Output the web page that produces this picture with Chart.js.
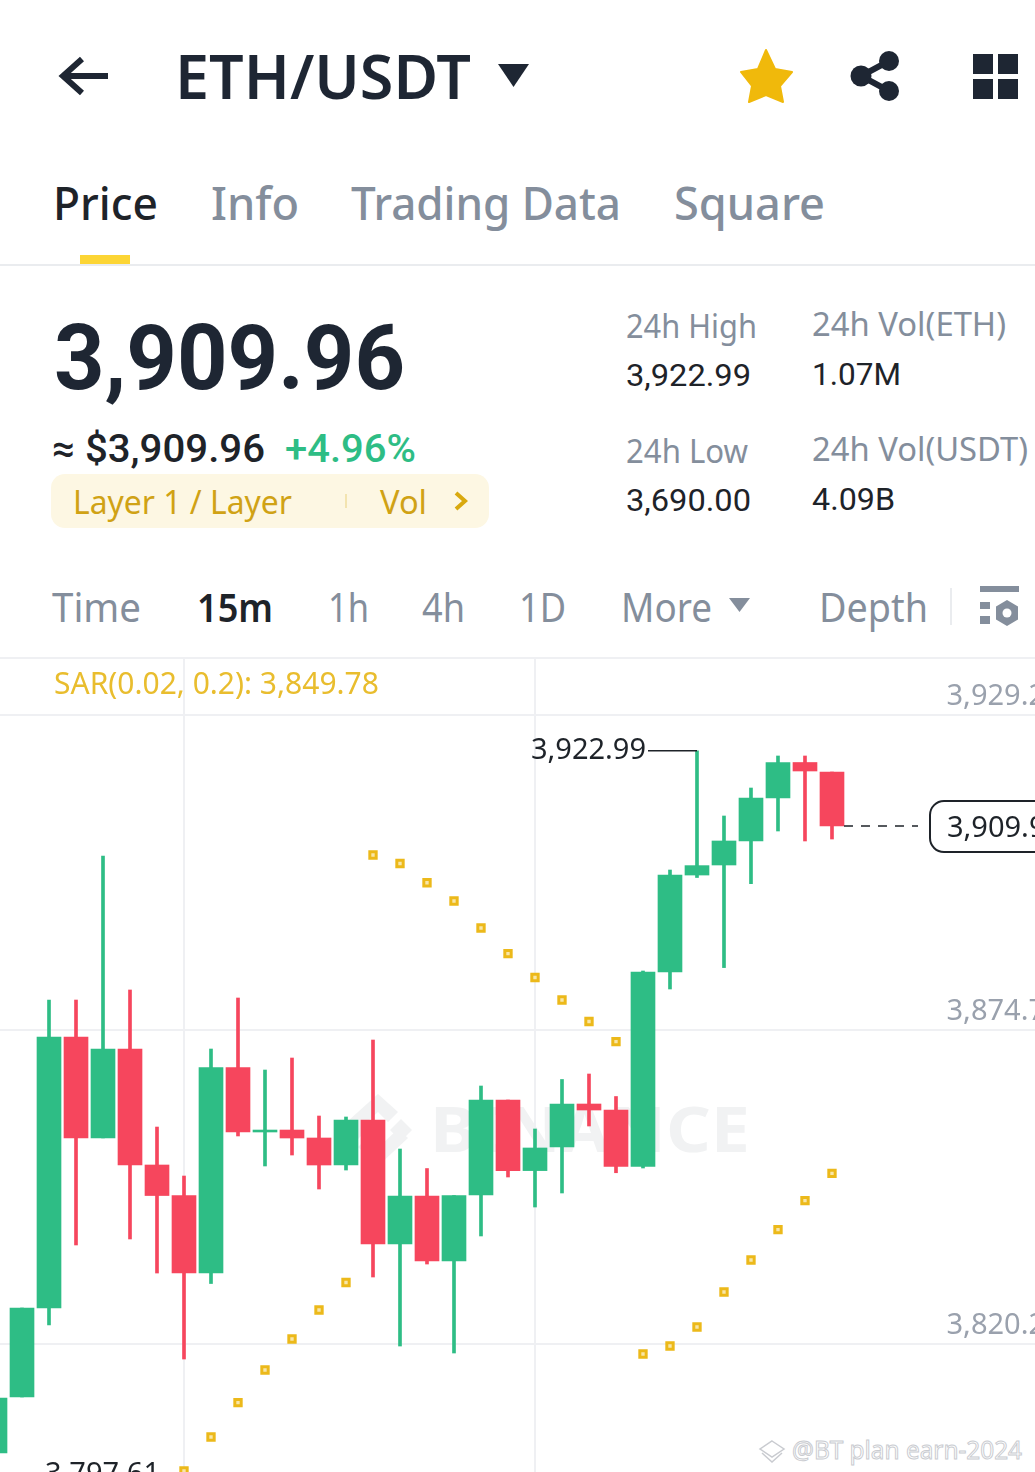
<!DOCTYPE html>
<html>
<head>
<meta charset="utf-8">
<title>ETH/USDT</title>
<script src="https://cdn.jsdelivr.net/npm/chart.js@4/dist/chart.umd.min.js"></script>
<style>
  html, body { margin: 0; padding: 0; background: #fff; width: 1035px; height: 1472px; overflow: hidden; }
  #page { position: absolute; left: 0; top: 0; }
  #myChart { position: absolute; left: 0; top: 658px; }
  text { font-family: "Noto Sans", sans-serif; }
  .num { font-family: Roboto, sans-serif; }
  .grey { fill: #848e9c; }
  .dark { fill: #1e2329; }
</style>
</head>
<body>
<svg id="page" width="1035" height="1472" viewBox="0 0 1035 1472">
  <!-- top bar -->
  <path d="M108 76H64M82 59 63 76 82 93" fill="none" stroke="#1e2633" stroke-width="6"/>
  <text x="175" y="99" font-size="61" font-weight="600" fill="#1e2633" textLength="296" lengthAdjust="spacingAndGlyphs">ETH/USDT</text>
  <path d="M498 64H529L513.5 87Z" fill="#1e2633"/>
  <path d="M766 50 775 69 792 72 780 86 783 102 766 95 749 102 752 86 741 72 758 69Z" fill="#f0b90b" stroke="#f0b90b" stroke-width="2" stroke-linejoin="round"/>
  <path d="M889 61 861 76 889 91" fill="none" stroke="#1e2633" stroke-width="6"/>
  <circle cx="889" cy="61" r="10" fill="#1e2633"/><circle cx="861" cy="76" r="10.5" fill="#1e2633"/><circle cx="889" cy="91" r="10" fill="#1e2633"/>
  <path d="M973 54h20v20h-20zM998 54h20v20h-20zM973 79h20v20h-20zM998 79h20v20h-20z" fill="#1e2633"/>

  <!-- tabs -->
  <text class="dark" x="53" y="220" font-size="46" font-weight="500" textLength="105" lengthAdjust="spacingAndGlyphs">Price</text>
  <text class="grey" x="211" y="220" font-size="46" font-weight="500" textLength="88" lengthAdjust="spacingAndGlyphs">Info</text>
  <text class="grey" x="351" y="220" font-size="46" font-weight="500" textLength="270" lengthAdjust="spacingAndGlyphs">Trading Data</text>
  <text class="grey" x="674" y="220" font-size="46" font-weight="500" textLength="151" lengthAdjust="spacingAndGlyphs">Square</text>
  <rect x="80" y="255" width="50" height="9" fill="#fcd535"/>
  <rect x="0" y="264" width="1035" height="2" fill="#eaecef"/>

  <!-- price block -->
  <text class="num" x="54" y="389" font-size="91" font-weight="700" fill="#1e2633" textLength="351" lengthAdjust="spacingAndGlyphs">3,909.96</text>
  <text class="num dark" x="52" y="462" font-size="39" font-weight="500" textLength="213" lengthAdjust="spacingAndGlyphs">≈ $3,909.96</text>
  <text class="num" x="285" y="462" font-size="39" font-weight="500" fill="#2ebd85" textLength="131" lengthAdjust="spacingAndGlyphs">+4.96%</text>
  <rect x="51" y="474" width="438" height="54" rx="14" fill="#fdf7e3"/>
  <text x="73" y="514" font-size="33" fill="#d0a215" textLength="219" lengthAdjust="spacingAndGlyphs">Layer 1 / Layer</text>
  <rect x="345" y="494" width="2" height="14" fill="#f3e4b0"/>
  <text x="380" y="514" font-size="33" fill="#d0a215" textLength="47" lengthAdjust="spacingAndGlyphs">Vol</text>
  <path d="M456 493 465 501 456 509" fill="none" stroke="#d9a90f" stroke-width="4"/>

  <text class="grey" x="626" y="338" font-size="32" textLength="131" lengthAdjust="spacingAndGlyphs">24h High</text>
  <text class="num dark" x="626" y="386" font-size="32" textLength="125" lengthAdjust="spacingAndGlyphs">3,922.99</text>
  <text class="grey" x="626" y="463" font-size="32" textLength="122" lengthAdjust="spacingAndGlyphs">24h Low</text>
  <text class="num dark" x="626" y="511" font-size="32" textLength="125" lengthAdjust="spacingAndGlyphs">3,690.00</text>
  <text class="grey" x="812" y="336" font-size="32" textLength="194" lengthAdjust="spacingAndGlyphs">24h Vol(ETH)</text>
  <text class="num dark" x="812" y="385" font-size="32" textLength="89" lengthAdjust="spacingAndGlyphs">1.07M</text>
  <text class="grey" x="812" y="461" font-size="32" textLength="216" lengthAdjust="spacingAndGlyphs">24h Vol(USDT)</text>
  <text class="num dark" x="812" y="510" font-size="32" textLength="83" lengthAdjust="spacingAndGlyphs">4.09B</text>

  <!-- interval row -->
  <text class="grey" x="52" y="622" font-size="40" textLength="89" lengthAdjust="spacingAndGlyphs">Time</text>
  <text class="dark" x="197" y="622" font-size="40" font-weight="600" textLength="76" lengthAdjust="spacingAndGlyphs">15m</text>
  <text class="grey" x="328" y="622" font-size="40" textLength="41" lengthAdjust="spacingAndGlyphs">1h</text>
  <text class="grey" x="422" y="622" font-size="40" textLength="43" lengthAdjust="spacingAndGlyphs">4h</text>
  <text class="grey" x="519" y="622" font-size="40" textLength="47" lengthAdjust="spacingAndGlyphs">1D</text>
  <text class="grey" x="621" y="622" font-size="40" textLength="91" lengthAdjust="spacingAndGlyphs">More</text>
  <path d="M729 598H750L739.5 612Z" fill="#848e9c"/>
  <text class="grey" x="819" y="622" font-size="40" textLength="109" lengthAdjust="spacingAndGlyphs">Depth</text>
  <rect x="950" y="588" width="2" height="37" fill="#eaecef"/>
  <path d="M980 586h39v6h-39zM980 602h10v7h-10zM980 616h10v8h-10z" fill="#848e9c"/>
  <path d="M1007 600 1018 606.500V619.500L1007 626 996 619.500V606.500Z" fill="#848e9c"/>
  <circle cx="1007" cy="613" r="4.500" fill="#fff"/>
  <rect x="0" y="657" width="1035" height="2" fill="#eff0f3"/>

  <!-- watermarks -->
  <g fill="#f1f2f3">
    <path d="M378 1094 398 1112 388 1122 378 1112 358 1130 348 1121ZM390 1130 401 1119 412 1130 401 1141ZM345 1130 356 1119 367 1130 356 1141ZM378 1166 358 1147 368 1137 378 1148 398 1129 408 1138Z"/>
    <text x="430" y="1152" font-size="62" font-weight="700" textLength="320" lengthAdjust="spacingAndGlyphs">BINANCE</text>
  </g>
  <text x="792" y="1459" font-size="25" fill="#fff" stroke="#c9cbd0" stroke-width="1" textLength="230" lengthAdjust="spacingAndGlyphs">@BT plan earn-2024</text>
  <path d="M772 1441 784 1449 772 1457 760 1449ZM762 1453 772 1462 782 1453" fill="none" stroke="#c9cbd0" stroke-width="1.500"/>
</svg>
<canvas id="myChart" width="1035" height="814"></canvas>
<script>
const opens = [3801.31, 3811.02, 3826.44, 3873.40, 3855.90, 3871.32, 3851.22, 3845.93, 3832.50, 3868.11, 3856.94, 3857.28, 3855.90, 3851.22, 3859.02, 3837.53, 3845.85, 3834.58, 3846.02, 3862.48, 3850.25, 3854.34, 3861.79, 3860.75, 3850.96, 3884.66, 3901.47, 3903.21, 3907.37, 3914.82, 3920.97, 3919.32]
const closes = [3810.84, 3826.44, 3873.40, 3855.90, 3871.32, 3851.22, 3845.93, 3832.50, 3868.11, 3856.94, 3857.28, 3855.90, 3851.22, 3859.02, 3837.53, 3845.85, 3834.58, 3845.93, 3862.48, 3850.25, 3854.17, 3861.79, 3860.75, 3850.96, 3884.66, 3901.47, 3903.10, 3907.37, 3914.82, 3920.97, 3919.50, 3909.96]
const highs = [3810.84, 3826.44, 3879.81, 3879.81, 3904.77, 3881.55, 3857.80, 3849.31, 3871.32, 3880.16, 3867.68, 3869.76, 3859.71, 3859.54, 3872.88, 3853.99, 3850.61, 3845.93, 3864.91, 3862.48, 3857.46, 3866.04, 3866.99, 3863.09, 3884.84, 3902.34, 3922.99, 3911.70, 3916.55, 3922.10, 3922.10, 3919.32]
const lows = [3801.31, 3811.02, 3823.49, 3837.36, 3855.90, 3838.40, 3832.50, 3817.60, 3830.68, 3856.25, 3851.05, 3852.95, 3847.06, 3850.35, 3831.81, 3819.85, 3834.06, 3818.64, 3838.92, 3849.14, 3843.94, 3846.37, 3857.98, 3849.88, 3850.70, 3881.72, 3901.04, 3885.43, 3899.97, 3909.10, 3907.37, 3907.71]
const sarValues = [null, null, null, null, null, null, null, 3798.19, 3804.09, 3810.05, 3815.70, 3821.07, 3826.09, 3830.86, 3904.94, 3903.47, 3900.14, 3896.97, 3892.29, 3887.85, 3883.71, 3879.81, 3876.09, 3872.59, 3818.47, 3819.85, 3823.15, 3829.21, 3834.76, 3840.02, 3845.05, 3849.78]

const yTicks = [3929.2, 3874.7, 3820.2]
const yTickLabels = ["3,929.2", "3,874.7", "3,820.2"]
const xGridCandles = [7, 20]
const lastPrice = 3909.96
const highPrice = 3922.99
const lowPrice = 3797.61
const sarLabel = "SAR(0.02, 0.2): 3,849.78"

const green = "#2ebd85"
const red = "#f6465d"
const gridColor = "#eff0f3"
const sansFont = '"Noto Sans", sans-serif'

const candleColor = (ctx) => (closes[ctx.dataIndex] >= opens[ctx.dataIndex] ? green : red)

// tick labels must not push the plot area in, the canvas is the plot
const noAxisPadding = (axis) => {
  axis.paddingLeft = 0
  axis.paddingRight = 0
  axis.paddingTop = 0
  axis.paddingBottom = 0
  if (axis.axis === "y") axis.width = 0
}

// high / low / last price tags and the SAR legend, placed with the chart scales
const priceTags = {
  id: "priceTags",
  afterDatasetsDraw(chart) {
    const { ctx, scales } = chart
    const x = scales.x
    const y = scales.y
    ctx.save()
    ctx.textBaseline = "middle"

    ctx.font = "30px " + sansFont
    ctx.fillStyle = "#e9bd2e"
    ctx.fillText(sarLabel, 54, 27)

    ctx.font = "29px " + sansFont
    ctx.fillStyle = "#1e2329"
    const hy = y.getPixelForValue(highPrice)
    ctx.textAlign = "right"
    ctx.fillText("3,922.99", 646, hy)
    ctx.fillText("3,797.61", 160, y.getPixelForValue(lowPrice))
    ctx.strokeStyle = "#1e2329"
    ctx.lineWidth = 1.5
    ctx.beginPath()
    ctx.moveTo(648, hy)
    ctx.lineTo(x.getPixelForValue(26), hy)
    ctx.stroke()

    const ly = y.getPixelForValue(lastPrice)
    ctx.setLineDash([9, 8])
    ctx.beginPath()
    ctx.moveTo(x.getPixelForValue(31) + 12, ly)
    ctx.lineTo(918, ly)
    ctx.stroke()
    ctx.setLineDash([])

    ctx.lineWidth = 2
    ctx.beginPath()
    ctx.roundRect(930, ly - 25, 130, 51, 14)
    ctx.fillStyle = "#fff"
    ctx.fill()
    ctx.stroke()
    ctx.fillStyle = "#1e2329"
    ctx.textAlign = "left"
    ctx.fillText("3,909.96", 947, ly + 3)
    ctx.restore()
  },
}

const config = {
  type: "bar",
  data: {
    datasets: [
      {
        type: "line",
        label: "SAR",
        data: sarValues.map((v, i) => ({ x: i, y: v })),
        showLine: false,
        pointStyle: "rect",
        pointRadius: 4.5,
        pointBorderWidth: 3,
        pointBorderColor: "#ecb91a",
        pointBackgroundColor: "#f8e6a8",
        order: 0,
      },
      {
        label: "Body",
        data: opens.map((o, i) => ({ x: i, y: [o, closes[i]] })),
        backgroundColor: candleColor,
        barThickness: 24,
        grouped: false,
        order: 1,
      },
      {
        label: "Wick",
        data: lows.map((l, i) => ({ x: i, y: [l, highs[i]] })),
        backgroundColor: candleColor,
        barThickness: 3,
        grouped: false,
        order: 2,
      },
    ],
  },
  options: {
    responsive: false,
    animation: false,
    events: [],
    layout: { padding: 0, autoPadding: false },
    plugins: { legend: { display: false }, tooltip: { enabled: false } },
    scales: {
      x: {
        type: "linear",
        min: 0.185,
        max: 38.519,
        offset: false,
        border: { display: false },
        grid: { color: gridColor, lineWidth: 2, drawTicks: false, offset: false },
        ticks: { display: false },
        afterBuildTicks: (axis) => {
          axis.ticks = xGridCandles.map((v) => ({ value: v }))
        },
        afterFit: noAxisPadding,
      },
      y: {
        position: "right",
        min: 3798.02,
        max: 3939.08,
        border: { display: false },
        grid: { color: gridColor, lineWidth: 2, drawTicks: false },
        ticks: {
          mirror: true,
          padding: 10,
          labelOffset: -18,
          color: "#9aa1ad",
          font: { family: sansFont, size: 29 },
          callback: (value, index) => yTickLabels[index],
        },
        afterBuildTicks: (axis) => {
          axis.ticks = yTicks.map((v) => ({ value: v }))
        },
        afterFit: noAxisPadding,
      },
    },
  },
  plugins: [priceTags],
}

const myChart = new Chart(document.getElementById("myChart"), config)
</script>
</body>
</html>
